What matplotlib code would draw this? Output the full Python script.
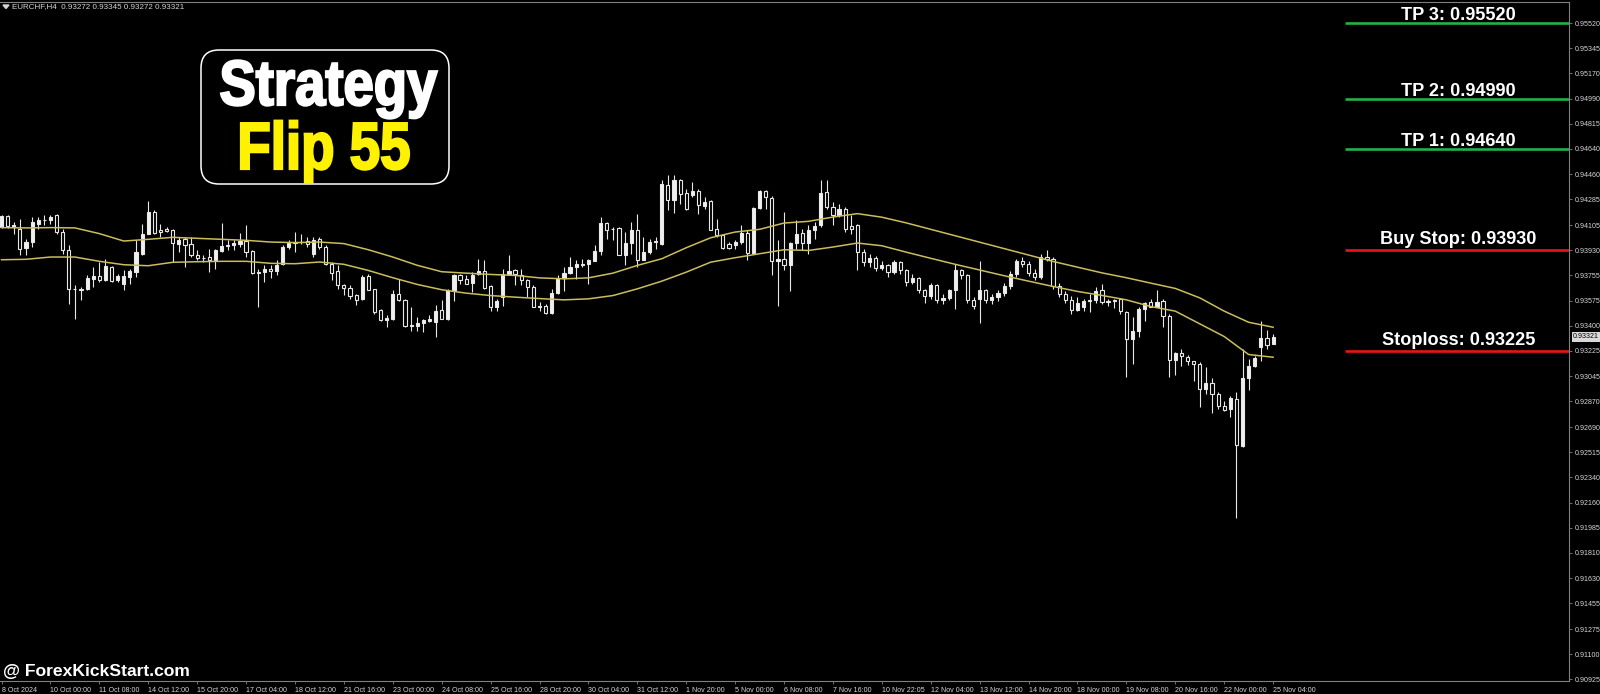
"""EURCHF H4 candles with the 'Strategy Flip 55' levels, redrawn in matplotlib."""
import matplotlib
matplotlib.use("Agg")
import matplotlib.pyplot as plt
from matplotlib.patches import FancyBboxPatch, Polygon, PathPatch
from matplotlib.textpath import TextPath
from matplotlib.font_manager import FontProperties
from matplotlib.transforms import Affine2D

W, H = 1600, 694
BG, INK, FRAME = "#000000", "#FFFFFF", "#808080"
TICK_TXT, MA_COL = "#D6D6D6", "#C9BD5C"
GREEN, RED, YELLOW = "#22B14C", "#E8141C", "#FFF200"
FONT = ["Liberation Sans", "DejaVu Sans"]

header = "EURCHF,H4  0.93272 0.93345 0.93272 0.93321"

opens = [
    0.94092, 0.94166, 0.94092, 0.94080, 0.93947, 0.93986, 0.94115, 0.94138, 0.94138, 0.94174,
    0.94057, 0.93928, 0.93659, 0.93654, 0.93654, 0.93727, 0.93750, 0.93717, 0.93811, 0.93717,
    0.93689, 0.93741, 0.93776, 0.93904, 0.94045, 0.94197, 0.94073, 0.94080, 0.94068, 0.93975,
    0.94010, 0.93970, 0.93897, 0.93874, 0.93881, 0.93862, 0.93923, 0.93956, 0.93963, 0.93975,
    0.93993, 0.93921, 0.93769, 0.93776, 0.93799, 0.93783, 0.93834, 0.93951, 0.93979, 0.93986,
    0.93993, 0.93904, 0.94010, 0.93951, 0.93834, 0.93780, 0.93682, 0.93663, 0.93612, 0.93589,
    0.93745, 0.93654, 0.93507, 0.93437, 0.93448, 0.93619, 0.93577, 0.93401, 0.93401, 0.93420,
    0.93432, 0.93425, 0.93507, 0.93448, 0.93651, 0.93752, 0.93728, 0.93698, 0.93763, 0.93780,
    0.93675, 0.93534, 0.93600, 0.93763, 0.93787, 0.93756, 0.93717, 0.93670, 0.93536, 0.93536,
    0.93487, 0.93628, 0.93735, 0.93768, 0.93810, 0.93827, 0.93834, 0.93850, 0.93922, 0.94119,
    0.94079, 0.94084, 0.93892, 0.93979, 0.94072, 0.93862, 0.93916, 0.93986, 0.93974, 0.94384,
    0.94283, 0.94419, 0.94330, 0.94313, 0.94344, 0.94236, 0.94271, 0.94079, 0.94033, 0.93969,
    0.93962, 0.93986, 0.94049, 0.93909, 0.94227, 0.94344, 0.94297, 0.93852, 0.93869, 0.93822,
    0.93979, 0.94049, 0.93979, 0.94072, 0.94103, 0.94337, 0.94231, 0.94173, 0.94220, 0.94095,
    0.94103, 0.93916, 0.93843, 0.93871, 0.93801, 0.93822, 0.93773, 0.93843, 0.93787, 0.93703,
    0.93731, 0.93647, 0.93605, 0.93682, 0.93577, 0.93591, 0.93647, 0.93787, 0.93752, 0.93577,
    0.93590, 0.93650, 0.93580, 0.93600, 0.93630, 0.93680, 0.93760, 0.93850, 0.93830, 0.93770,
    0.93740, 0.93880, 0.93870, 0.93680, 0.93620, 0.93580, 0.93510, 0.93534, 0.93572, 0.93577,
    0.93647, 0.93565, 0.93572, 0.93584, 0.93495, 0.93307, 0.93361, 0.93518, 0.93565, 0.93534,
    0.93572, 0.93471, 0.93162, 0.93209, 0.93184, 0.93151, 0.93132, 0.92954, 0.92999, 0.92921,
    0.92840, 0.92816, 0.92886, 0.92559, 0.93031, 0.93120, 0.93249, 0.93315, 0.93272,
]
highs = [
    0.94174, 0.94174, 0.94127, 0.94150, 0.94010, 0.94162, 0.94162, 0.94174, 0.94174, 0.94185,
    0.94080, 0.93963, 0.93682, 0.93670, 0.93752, 0.93811, 0.93846, 0.93869, 0.93815, 0.93764,
    0.93787, 0.93799, 0.93998, 0.94115, 0.94272, 0.94209, 0.94115, 0.94092, 0.94080, 0.94021,
    0.94021, 0.94021, 0.93928, 0.93893, 0.93940, 0.93940, 0.94122, 0.93998, 0.94003, 0.94049,
    0.94103, 0.93928, 0.93799, 0.93823, 0.93823, 0.93858, 0.93963, 0.93998, 0.94057, 0.94045,
    0.94021, 0.94021, 0.94021, 0.93963, 0.93846, 0.93823, 0.93694, 0.93682, 0.93624, 0.93752,
    0.93764, 0.93659, 0.93518, 0.93472, 0.93647, 0.93729, 0.93589, 0.93530, 0.93464, 0.93448,
    0.93472, 0.93542, 0.93577, 0.93659, 0.93763, 0.93763, 0.93752, 0.93775, 0.93869, 0.93857,
    0.93682, 0.93588, 0.93799, 0.93892, 0.93799, 0.93799, 0.93728, 0.93682, 0.93564, 0.93553,
    0.93658, 0.93752, 0.93810, 0.93880, 0.93857, 0.93869, 0.93869, 0.93962, 0.94161, 0.94126,
    0.94091, 0.94091, 0.94056, 0.94126, 0.94185, 0.94021, 0.94009, 0.94021, 0.94419, 0.94454,
    0.94454, 0.94430, 0.94360, 0.94407, 0.94360, 0.94302, 0.94278, 0.94150, 0.94044, 0.93986,
    0.93997, 0.94103, 0.94068, 0.94231, 0.94349, 0.94353, 0.94306, 0.93997, 0.94196, 0.93986,
    0.94138, 0.94079, 0.94103, 0.94126, 0.94419, 0.94419, 0.94267, 0.94255, 0.94231, 0.94173,
    0.94115, 0.93940, 0.93900, 0.93890, 0.93850, 0.93835, 0.93860, 0.93855, 0.93800, 0.93760,
    0.93740, 0.93660, 0.93700, 0.93690, 0.93620, 0.93660, 0.93830, 0.93800, 0.93760, 0.93600,
    0.93856, 0.93660, 0.93620, 0.93650, 0.93700, 0.93780, 0.93870, 0.93880, 0.93850, 0.93800,
    0.93900, 0.93930, 0.93880, 0.93700, 0.93640, 0.93610, 0.93600, 0.93588, 0.93623, 0.93670,
    0.93694, 0.93588, 0.93588, 0.93588, 0.93506, 0.93460, 0.93530, 0.93565, 0.93588, 0.93651,
    0.93588, 0.93483, 0.93214, 0.93237, 0.93197, 0.93155, 0.93144, 0.93113, 0.93034, 0.92933,
    0.92870, 0.92910, 0.92933, 0.93237, 0.93167, 0.93190, 0.93436, 0.93371, 0.93345,
]
lows = [
    0.94087, 0.94087, 0.94045, 0.93893, 0.93893, 0.93951, 0.94080, 0.94103, 0.94115, 0.94045,
    0.93904, 0.93553, 0.93448, 0.93577, 0.93647, 0.93670, 0.93706, 0.93713, 0.93706, 0.93706,
    0.93647, 0.93694, 0.93741, 0.93893, 0.94045, 0.94045, 0.94021, 0.94057, 0.93846, 0.93916,
    0.93811, 0.93881, 0.93858, 0.93846, 0.93776, 0.93799, 0.93916, 0.93928, 0.93928, 0.93951,
    0.93881, 0.93764, 0.93530, 0.93706, 0.93736, 0.93752, 0.93823, 0.93940, 0.93916, 0.93975,
    0.93951, 0.93881, 0.93940, 0.93823, 0.93717, 0.93659, 0.93612, 0.93589, 0.93542, 0.93577,
    0.93647, 0.93483, 0.93432, 0.93390, 0.93441, 0.93572, 0.93390, 0.93366, 0.93366, 0.93355,
    0.93425, 0.93319, 0.93448, 0.93441, 0.93576, 0.93693, 0.93689, 0.93635, 0.93752, 0.93658,
    0.93506, 0.93506, 0.93541, 0.93752, 0.93682, 0.93682, 0.93600, 0.93529, 0.93506, 0.93483,
    0.93483, 0.93623, 0.93646, 0.93763, 0.93728, 0.93810, 0.93693, 0.93850, 0.93892, 0.94009,
    0.93997, 0.93892, 0.93822, 0.93904, 0.93810, 0.93857, 0.93904, 0.93939, 0.93962, 0.94213,
    0.94189, 0.94255, 0.94213, 0.94302, 0.94185, 0.94220, 0.94068, 0.94021, 0.93939, 0.93939,
    0.93939, 0.93974, 0.93857, 0.93904, 0.94220, 0.94220, 0.93752, 0.93541, 0.93787, 0.93646,
    0.93939, 0.93927, 0.93904, 0.94009, 0.94091, 0.94220, 0.94103, 0.94161, 0.94056, 0.94044,
    0.93787, 0.93820, 0.93810, 0.93780, 0.93790, 0.93740, 0.93760, 0.93760, 0.93680, 0.93690,
    0.93630, 0.93560, 0.93590, 0.93560, 0.93550, 0.93580, 0.93520, 0.93730, 0.93560, 0.93520,
    0.93420, 0.93560, 0.93550, 0.93570, 0.93610, 0.93660, 0.93740, 0.93810, 0.93750, 0.93720,
    0.93730, 0.93850, 0.93660, 0.93600, 0.93560, 0.93480, 0.93500, 0.93506, 0.93495, 0.93558,
    0.93553, 0.93541, 0.93525, 0.93483, 0.93038, 0.93132, 0.93324, 0.93432, 0.93530, 0.93530,
    0.93394, 0.93043, 0.93055, 0.93120, 0.93125, 0.93015, 0.92832, 0.92921, 0.92786, 0.92816,
    0.92800, 0.92758, 0.92050, 0.92552, 0.92949, 0.93113, 0.93155, 0.93237, 0.93272,
]
closes = [
    0.94166, 0.94096, 0.94103, 0.93940, 0.93986, 0.94127, 0.94143, 0.94143, 0.94162, 0.94057,
    0.93928, 0.93659, 0.93654, 0.93652, 0.93736, 0.93745, 0.93717, 0.93815, 0.93713, 0.93750,
    0.93745, 0.93780, 0.93916, 0.94045, 0.94197, 0.94049, 0.94057, 0.94064, 0.93979, 0.94003,
    0.93963, 0.93893, 0.93874, 0.93876, 0.93862, 0.93928, 0.93956, 0.93968, 0.93979, 0.93993,
    0.93916, 0.93769, 0.93776, 0.93799, 0.93783, 0.93823, 0.93951, 0.93979, 0.93986, 0.93984,
    0.93970, 0.94003, 0.93951, 0.93834, 0.93769, 0.93682, 0.93666, 0.93605, 0.93577, 0.93741,
    0.93652, 0.93495, 0.93437, 0.93453, 0.93619, 0.93577, 0.93401, 0.93403, 0.93420, 0.93437,
    0.93448, 0.93502, 0.93448, 0.93652, 0.93752, 0.93721, 0.93693, 0.93752, 0.93780, 0.93663,
    0.93534, 0.93576, 0.93763, 0.93780, 0.93763, 0.93717, 0.93670, 0.93529, 0.93534, 0.93487,
    0.93628, 0.93735, 0.93768, 0.93810, 0.93829, 0.93834, 0.93857, 0.93922, 0.94119, 0.94068,
    0.94077, 0.93897, 0.93979, 0.94068, 0.93862, 0.93916, 0.93986, 0.93990, 0.94391, 0.94283,
    0.94419, 0.94325, 0.94220, 0.94344, 0.94243, 0.94267, 0.94072, 0.94033, 0.93946, 0.93946,
    0.93986, 0.94049, 0.93909, 0.94227, 0.94344, 0.94302, 0.93852, 0.93864, 0.93822, 0.93979,
    0.94044, 0.93979, 0.94072, 0.94098, 0.94330, 0.94231, 0.94173, 0.94215, 0.94079, 0.94079,
    0.93916, 0.93843, 0.93871, 0.93801, 0.93822, 0.93773, 0.93843, 0.93787, 0.93703, 0.93731,
    0.93647, 0.93605, 0.93682, 0.93577, 0.93591, 0.93647, 0.93787, 0.93752, 0.93577, 0.93541,
    0.93650, 0.93580, 0.93600, 0.93630, 0.93680, 0.93760, 0.93850, 0.93830, 0.93770, 0.93740,
    0.93880, 0.93870, 0.93680, 0.93620, 0.93580, 0.93510, 0.93560, 0.93572, 0.93577, 0.93642,
    0.93565, 0.93572, 0.93581, 0.93502, 0.93307, 0.93361, 0.93518, 0.93558, 0.93534, 0.93565,
    0.93471, 0.93162, 0.93209, 0.93186, 0.93151, 0.93132, 0.92957, 0.92999, 0.92921, 0.92840,
    0.92809, 0.92893, 0.92563, 0.93031, 0.93120, 0.93172, 0.93315, 0.93265, 0.93321,
]

# the two yellow channel lines, read every 4 bars
ma_bars = list(range(0, 209, 4))
ma_upper = [
    0.94087, 0.94085, 0.94087, 0.94085, 0.94045, 0.93993, 0.94005, 0.94019, 0.94012, 0.94005,
    0.93998, 0.93986, 0.93982, 0.93986, 0.93975, 0.93932, 0.93881, 0.93823, 0.93778, 0.93768,
    0.93759, 0.93752, 0.93735, 0.93728, 0.93735, 0.93768, 0.93822, 0.93869, 0.93946, 0.94016,
    0.94056, 0.94075, 0.94119, 0.94131, 0.94161, 0.94185, 0.94160, 0.94120, 0.94075, 0.94030,
    0.93985, 0.93940, 0.93895, 0.93850, 0.93810, 0.93770, 0.93736, 0.93698, 0.93661, 0.93595,
    0.93502, 0.93424, 0.93389,
]
ma_lower = [
    0.93862, 0.93865, 0.93881, 0.93881, 0.93851, 0.93827, 0.93820, 0.93844, 0.93848, 0.93851,
    0.93851, 0.93837, 0.93834, 0.93846, 0.93830, 0.93787, 0.93736, 0.93689, 0.93652, 0.93628,
    0.93611, 0.93600, 0.93590, 0.93581, 0.93588, 0.93611, 0.93658, 0.93712, 0.93775, 0.93845,
    0.93876, 0.93904, 0.93932, 0.93927, 0.93951, 0.93979, 0.93960, 0.93915, 0.93872, 0.93830,
    0.93790, 0.93750, 0.93712, 0.93675, 0.93640, 0.93612, 0.93581, 0.93534, 0.93502, 0.93413,
    0.93324, 0.93198, 0.93179,
]

date_labels = ["8 Oct 2024", "10 Oct 00:00", "11 Oct 08:00", "14 Oct 12:00", "15 Oct 20:00",
               "17 Oct 04:00", "18 Oct 12:00", "21 Oct 16:00", "23 Oct 00:00", "24 Oct 08:00",
               "25 Oct 16:00", "28 Oct 20:00", "30 Oct 04:00", "31 Oct 12:00", "1 Nov 20:00",
               "5 Nov 00:00", "6 Nov 08:00", "7 Nov 16:00", "10 Nov 22:05", "12 Nov 04:00",
               "13 Nov 12:00", "14 Nov 20:00", "18 Nov 00:00", "19 Nov 08:00", "20 Nov 16:00",
               "22 Nov 00:00", "25 Nov 04:00"]
price_ticks = [0.95520, 0.95345, 0.95170, 0.94990, 0.94815, 0.94640, 0.94460, 0.94285, 0.94105,
               0.93930, 0.93755, 0.93575, 0.93400, 0.93225, 0.93045, 0.92870, 0.92690, 0.92515,
               0.92340, 0.92160, 0.91985, 0.91810, 0.91630, 0.91455, 0.91275, 0.91100, 0.90925]

level_names = ["TP 3", "TP 2", "TP 1", "Buy Stop", "Stoploss"]
level_values = [0.95520, 0.94990, 0.94640, 0.93930, 0.93225]
level_colors = [GREEN, GREEN, GREEN, RED, RED]
level_pad = [3, 3, 3, 6, 6]   # label baseline above the line, px

assert len(opens) == len(highs) == len(lows) == len(closes) == 209
assert len(ma_bars) == len(ma_upper) == len(ma_lower)

fig = plt.figure(figsize=(W / 100, H / 100), dpi=100, facecolor=BG)
ax = fig.add_axes([0, 1 - 681 / H, 1569 / W, 679.5 / H])
ax.set_facecolor(BG)
ax.set_xlim(-0.25, 256.4)
ax.set_ylim(0.90911, 0.95671)

# candles: white body = up bar, black body = down bar
for i, (o, h, l, c) in enumerate(zip(opens, highs, lows, closes)):
    ax.vlines(i, l, h, color="#E8E8E8", lw=0.8, zorder=2)
    up = c >= o
    ax.bar(i, abs(c - o), bottom=min(o, c), width=0.52,
           color="#F0F0F0" if up else BG, edgecolor="#E8E8E8", linewidth=0.8, zorder=3)

ax.plot(ma_bars, ma_upper, color=MA_COL, lw=1.1, zorder=4)
ax.plot(ma_bars, ma_lower, color=MA_COL, lw=1.1, zorder=4)

for name, v, col, pad in zip(level_names, level_values, level_colors, level_pad):
    ax.hlines(v, 219.8, 256.4, color=col, lw=1.9, zorder=5)
    ax.annotate(f"{name}: {v:.5f}", xy=(238.3, v), xytext=(0, pad), textcoords="offset pixels",
                ha="center", va="baseline", color=INK, fontsize=13.1, fontweight="bold",
                family=FONT, zorder=6)

# frame + axes like the terminal
ax.spines["left"].set_visible(False)
for s in ("top", "right", "bottom"):
    ax.spines[s].set_color(FRAME)
    ax.spines[s].set_linewidth(0.8)
ax.yaxis.tick_right()
ax.set_yticks(price_ticks, [f"{p:.5f}" for p in price_ticks])
ax.set_xticks(range(0, 209, 8), date_labels)
ax.tick_params(axis="y", colors=FRAME, labelcolor=TICK_TXT, length=2.5, width=0.6,
               pad=1.5, labelsize=5.1)
ax.tick_params(axis="x", colors=FRAME, labelcolor=TICK_TXT, length=2.5, width=0.6,
               pad=1.8, labelsize=5.1)
for t in ax.get_xticklabels() + ax.get_yticklabels():
    t.set_family(FONT)
for t in ax.get_xticklabels():
    t.set_ha("left")

# current price tag on the price scale
ax.annotate(f"{closes[-1]:.5f}", xy=(1, closes[-1]), xycoords=("axes fraction", "data"),
            xytext=(4, 0), textcoords="offset pixels", ha="left", va="center",
            fontsize=5.1, family=FONT, color="#000000", annotation_clip=False,
            bbox=dict(boxstyle="square,pad=0.2", fc="#D9D9D9", ec="none"))

# overlay in pixel units for the decorations
ov = fig.add_axes([0, 0, 1, 1], zorder=10)
ov.set_xlim(0, W)
ov.set_ylim(H, 0)
ov.axis("off")
ov.patch.set_alpha(0)

ov.add_patch(Polygon([(3, 5), (9, 5), (6, 8.5)], closed=True, color=TICK_TXT))
ov.text(12, 7, header, ha="left", va="center", fontsize=5.8, color=TICK_TXT, family=FONT)


def squeezed(text, cx, baseline, cap_px, width_px, color):
    """Heavy condensed title text: bold glyph outlines squeezed to a set width."""
    tp = TextPath((0, 0), text, size=cap_px / 0.72,
                  prop=FontProperties(family="Liberation Sans", weight="bold"))
    ext = tp.get_extents()
    sx = width_px / ext.width
    tr = Affine2D().translate(-(ext.x0 + ext.x1) / 2, 0).scale(sx, -1).translate(cx, baseline)
    ov.add_patch(PathPatch(tr.transform_path(tp), fc=color, ec=color, lw=1.6))


ov.add_patch(FancyBboxPatch((201, 50), 248, 134, boxstyle="round,pad=0,rounding_size=18",
                            fc=BG, ec=INK, lw=1.1))
squeezed("Strategy", 329, 105, 46, 216, INK)
squeezed("Flip 55", 325, 169, 48, 168, YELLOW)

ov.text(3, 676, "@ ForexKickStart.com", ha="left", va="baseline", fontsize=12.6,
        fontweight="bold", color=INK, family=FONT)

fig.savefig("out.png", dpi=100, facecolor=BG)
print("wrote out.png")
